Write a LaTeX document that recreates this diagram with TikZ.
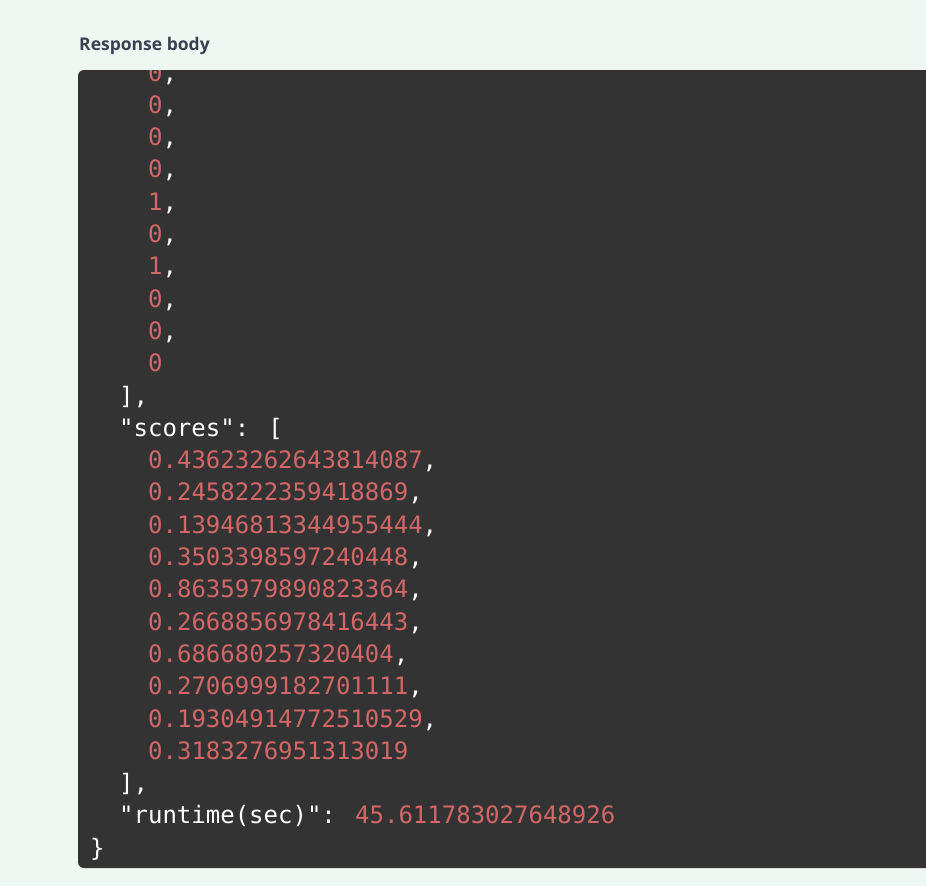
\documentclass[tikz,border=0pt]{standalone}
\usepackage{fontspec}
\setmainfont{Open Sans}
\newfontfamily\codefont{DejaVu Sans Mono}[Scale=1]
\definecolor{bgmint}{HTML}{EFF7F3}
\definecolor{codebg}{HTML}{333333}
\definecolor{numred}{HTML}{D36767}
\definecolor{titlec}{HTML}{3B4151}
\tikzset{
  code/.style={anchor=base west,inner sep=0pt,font=\codefont\fontsize{24}{24}\selectfont,text=white},
  num/.style={code,text=numred},
}
\begin{document}
\begin{tikzpicture}[x=1pt,y=-1pt]
\useasboundingbox (0,0) rectangle (926,886);
\clip (0,0) rectangle (926,886);
\fill[bgmint] (0,0) rectangle (926,886);
\node[anchor=base west,inner sep=0pt,font=\bfseries\fontsize{17.5}{18}\selectfont,text=titlec] (title) at (79,50) {Response body};
\fill[codebg,rounded corners=6pt] (78,70) rectangle (945,868);
\begin{scope}
\clip (78,70) rectangle (926,868);
\def\lh{32.3}
\node[num] (z0) at (148,81) {0\textcolor{white}{,}};
\node[num] (z1) at (148,113.3) {0\textcolor{white}{,}};
\node[num] (z2) at (148,145.6) {0\textcolor{white}{,}};
\node[num] (z3) at (148,177.9) {0\textcolor{white}{,}};
\node[num] (z4) at (148,210.2) {1\textcolor{white}{,}};
\node[num] (z5) at (148,242.5) {0\textcolor{white}{,}};
\node[num] (z6) at (148,274.8) {1\textcolor{white}{,}};
\node[num] (z7) at (148,307.1) {0\textcolor{white}{,}};
\node[num] (z8) at (148,339.4) {0\textcolor{white}{,}};
\node[num] (z9) at (148,371.7) {0};
\node[code] (c1) at (119,404) {],};
\node[code] (sc) at (119,436.3) {"scores": [};
\node[num] (s1) at (148,468.6) {0.43623262643814087\textcolor{white}{,}};
\node[num] (s2) at (148,500.9) {0.2458222359418869\textcolor{white}{,}};
\node[num] (s3) at (148,533.2) {0.13946813344955444\textcolor{white}{,}};
\node[num] (s4) at (148,565.5) {0.3503398597240448\textcolor{white}{,}};
\node[num] (s5) at (148,597.8) {0.8635979890823364\textcolor{white}{,}};
\node[num] (s6) at (148,630.1) {0.2668856978416443\textcolor{white}{,}};
\node[num] (s7) at (148,662.4) {0.686680257320404\textcolor{white}{,}};
\node[num] (s8) at (148,694.7) {0.2706999182701111\textcolor{white}{,}};
\node[num] (s9) at (148,727) {0.19304914772510529\textcolor{white}{,}};
\node[num] (s10) at (148,759.3) {0.3183276951313019};
\node[code] (c2) at (119,791.6) {],};
\node[code] (rt) at (119,823.9) {"runtime(sec)": \textcolor{numred}{45.611783027648926}};
\node[code] (cb) at (90,856.2) {\}};
\end{scope}
\end{tikzpicture}
\end{document}
